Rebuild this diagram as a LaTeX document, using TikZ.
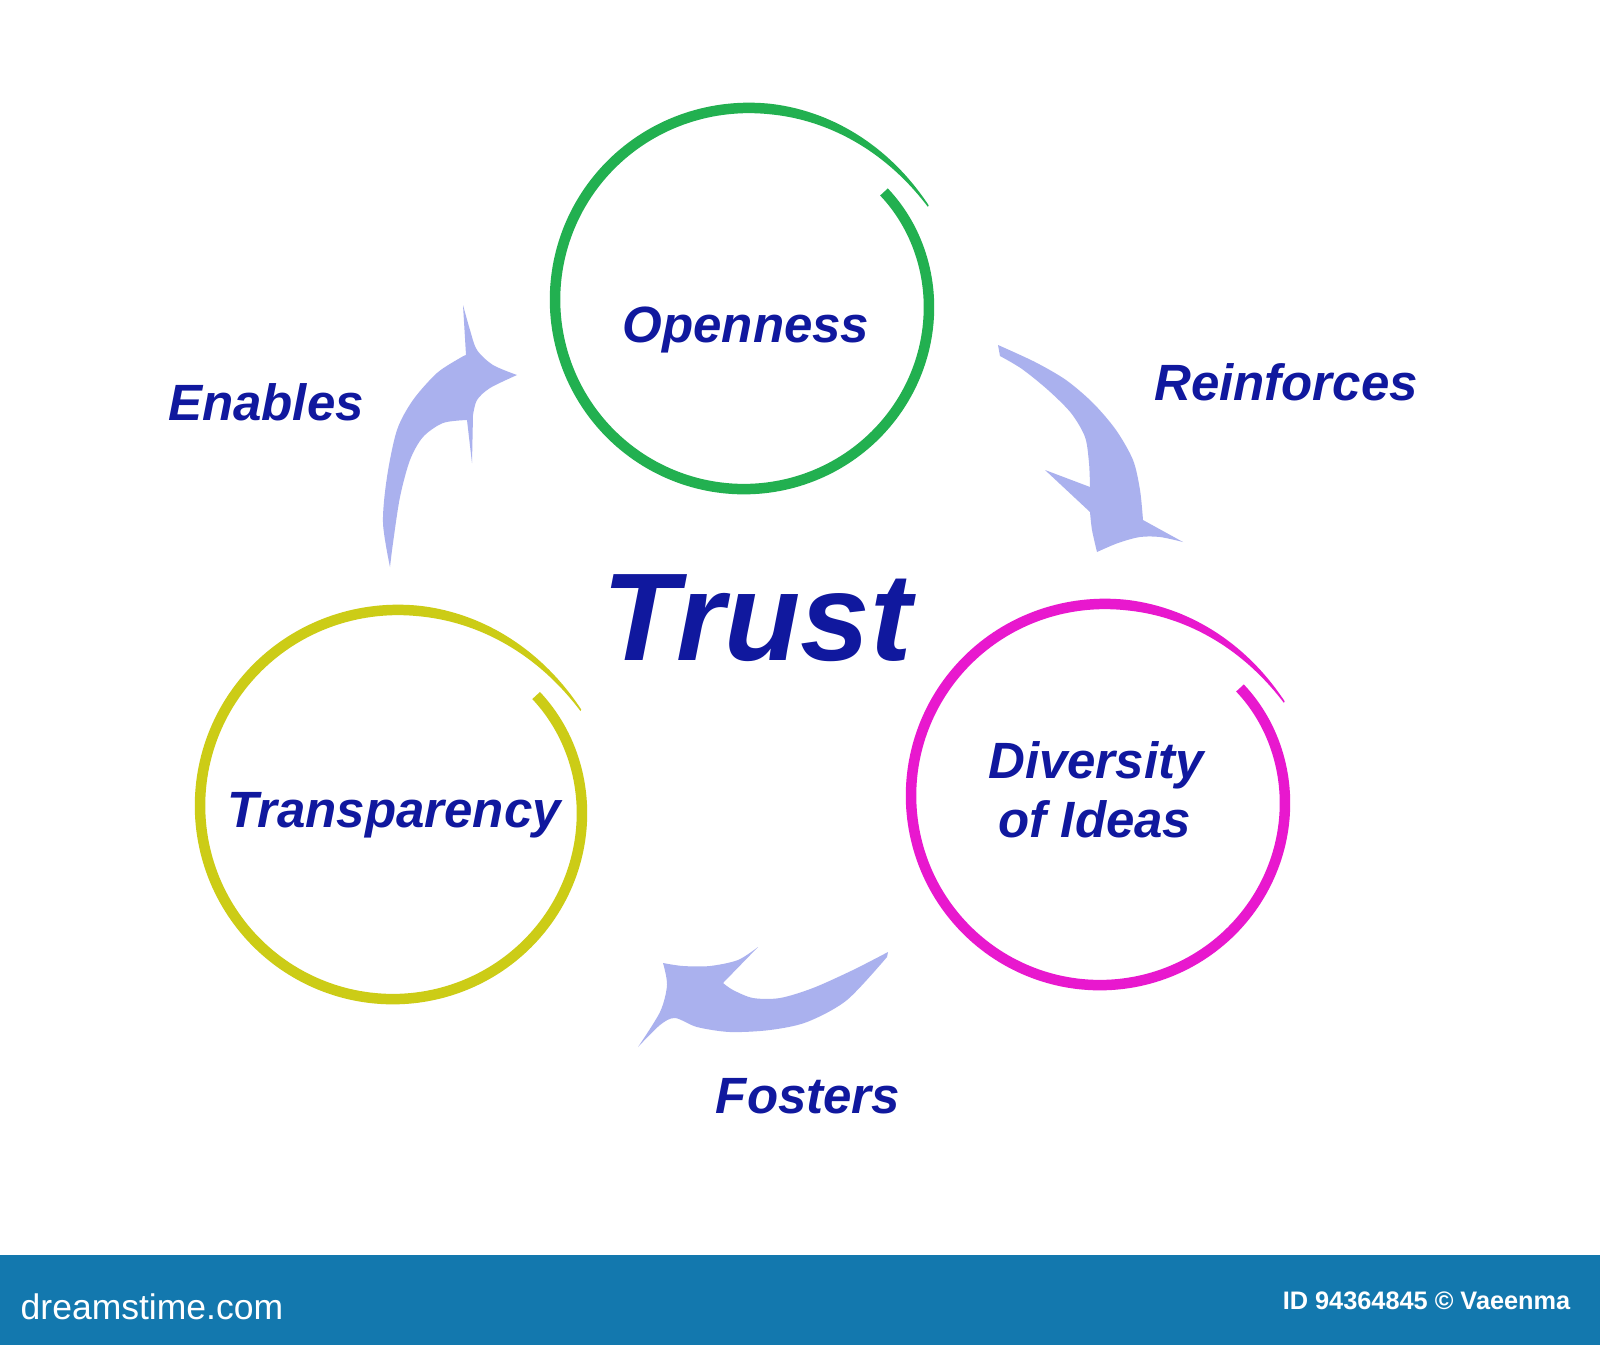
\documentclass[tikz,border=0pt]{standalone}
\usepackage{fontspec}
\setmainfont{Liberation Sans}
\usepackage{xcolor}
\usepackage{tikz}
\definecolor{textnavy}{RGB}{16,24,158}
\definecolor{ringgreen}{RGB}{34,176,80}
\definecolor{ringyellow}{RGB}{204,204,22}
\definecolor{ringmag}{RGB}{232,24,206}
\definecolor{flowblue}{RGB}{170,177,238}
\definecolor{barblue}{RGB}{19,120,174}

\begin{document}
\begin{tikzpicture}[x=0.01cm, y=-0.01cm,
    lbl/.style={font=\fontsize{14.5}{17}\selectfont\bfseries\itshape, text=textnavy,
      anchor=base, inner sep=0pt},
    flow/.style={fill=flowblue},
    declare function={rrad(\s,\r)=\r-14*exp(-8*\s)+16*exp(12*(\s-1));
      rwd(\s)=10.5-4.5*(6.67*max(0,\s-0.85))-4.5*(6.67*max(0,\s-0.85))*(6.67*max(0,\s-0.85));}]
\useasboundingbox (0,0) rectangle (1600,1345);
\fill[white] (0,0) rectangle (1600,1345);
% hand drawn rings
\foreach \cx/\cy/\rr/\col in {745/300/190/ringgreen, 394/806/194/ringyellow, 1101/796/190/ringmag}
  \fill[\col] plot[domain=0:1, samples=240]
      ({\cx+(rrad(\x,\rr)+0.5*rwd(\x))*cos(38-371*\x)}, {\cy-(rrad(\x,\rr)+0.5*rwd(\x))*sin(38-371*\x)})
    -- plot[domain=0:1, samples=240]
      ({\cx+(rrad(1-\x,\rr)-0.5*rwd(1-\x))*cos(38-371*(1-\x))}, {\cy-(rrad(1-\x,\rr)-0.5*rwd(1-\x))*sin(38-371*(1-\x))})
    -- cycle;
% curved arrows
\fill[flow] (390,567) -- plot[smooth] coordinates {(390,567) (383,523) (387,477) (397,430) (413,400) (437,373) (460,358) (466,355)}
  -- (463,305) -- plot[smooth] coordinates {(463,305) (470,330) (477,350) (493,365) (517,375)}
  -- plot[smooth] coordinates {(517,375) (490,388) (477,400) (473,415)}
  -- (472,463) -- plot[smooth] coordinates {(467,420) (443,423) (423,437) (410,460) (400,497) (393,543) (390,567)} -- cycle;
\fill[flow] (998,345) -- plot[smooth] coordinates {(998,345) (1035,362) (1066,380) (1093,403) (1116,430) (1133,460) (1140,490) (1143,520)}
  -- (1183,542) -- plot[smooth] coordinates {(1183,542) (1160,537) (1140,537) (1118,543) (1097,552)}
  -- plot[smooth] coordinates {(1097,552) (1092,530) (1090,512)}
  -- (1045,470) -- plot[smooth] coordinates {(1090,487) (1089,463) (1085,437) (1071,413) (1048,390) (1022,369) (1000,356)} -- cycle;
\fill[flow] (888,952) -- plot[smooth] coordinates {(888,952) (853,970) (813,988) (780,998) (753,998) (733,990) (723,983)}
  -- (758,947) -- plot[smooth] coordinates {(758,947) (738,960) (710,966) (683,966) (663,963)}
  -- plot[smooth] coordinates {(663,963) (667,985) (660,1012) (638,1047)}
  -- plot[smooth] coordinates {(638,1047) (660,1025) (675,1018) (697,1027) (730,1032) (770,1030) (807,1022) (847,1000) (887,957)} -- cycle;
% labels
\node[lbl] (open) at (746,342) {Openness};
\node[lbl] (trans) at (394,827) {Transparency};
\node[lbl] (div1) at (1096,778) {Diversity};
\node[lbl] (div2) at (1095,837) {of Ideas};
\node[lbl] (enab) at (266,420) {Enables};
\node[lbl] (reinf) at (1286,400) {Reinforces};
\node[lbl] (fost) at (808,1113) {Fosters};
\node[lbl, font=\fontsize{35.5}{40}\selectfont\bfseries\itshape] (trust) at (757,660) {Trust};
% footer bar
\fill[barblue] (0,1255) rectangle (1600,1345);
\node[font=\fontsize{10.1}{12}\selectfont, text=white, anchor=base west, inner sep=0pt] (site) at (20,1319) {dreamstime.com};
\node[font=\fontsize{7.2}{9}\selectfont\bfseries, text=white, anchor=base east, inner sep=0pt] (imgid) at (1571,1309) {ID 94364845 © Vaeenma};
\end{tikzpicture}
\end{document}
